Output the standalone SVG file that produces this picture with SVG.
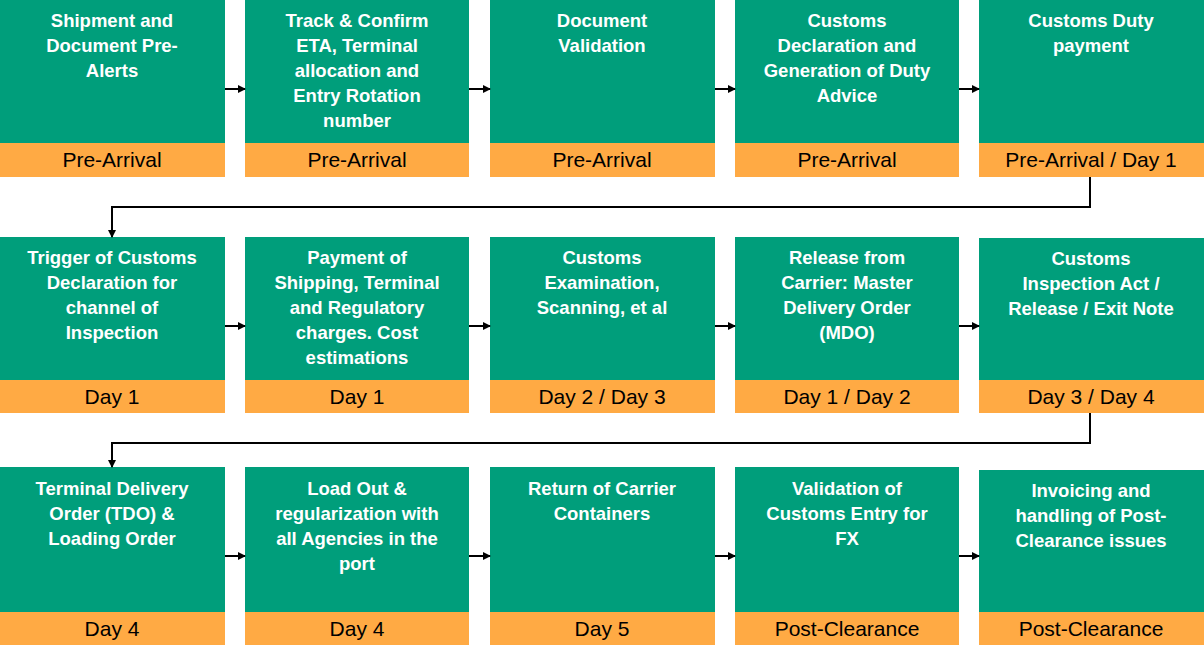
<svg xmlns="http://www.w3.org/2000/svg" width="1204" height="657" viewBox="0 0 1204 657">
<style>
.g{fill:#009E7B}.o{fill:#FFAA44}
.t{font-family:"Liberation Sans",Arial,sans-serif;font-weight:bold;font-size:18.5px;fill:#fff;text-anchor:middle}
.s{font-family:"Liberation Sans",Arial,sans-serif;font-size:21px;fill:#000;text-anchor:middle}
.c{stroke:#000;stroke-width:2;fill:none;marker-end:url(#a)}
</style>
<defs><marker id="a" markerWidth="8" markerHeight="8" refX="7" refY="4" orient="auto" markerUnits="userSpaceOnUse"><path d="M0,0L8,4L0,8z" fill="#000"/></marker></defs>
<rect width="1204" height="657" fill="#fff"/>
<g id="n1"><rect class="g" x="0" y="0" width="225" height="143"/><rect class="o" x="0" y="143" width="225" height="34"/><text class="t" x="112"><tspan x="112" y="27">Shipment and</tspan><tspan x="112" y="52">Document Pre-</tspan><tspan x="112" y="77">Alerts</tspan></text><text class="s" x="112" y="167">Pre-Arrival</text></g>
<g id="n2"><rect class="g" x="245" y="0" width="224" height="143"/><rect class="o" x="245" y="143" width="224" height="34"/><text class="t"><tspan x="357" y="27">Track &amp; Confirm</tspan><tspan x="357" y="52">ETA, Terminal</tspan><tspan x="357" y="77">allocation and</tspan><tspan x="357" y="102">Entry Rotation</tspan><tspan x="357" y="127">number</tspan></text><text class="s" x="357" y="167">Pre-Arrival</text></g>
<g id="n3"><rect class="g" x="490" y="0" width="225" height="143"/><rect class="o" x="490" y="143" width="225" height="34"/><text class="t"><tspan x="602" y="27">Document</tspan><tspan x="602" y="52">Validation</tspan></text><text class="s" x="602" y="167">Pre-Arrival</text></g>
<g id="n4"><rect class="g" x="735" y="0" width="224" height="143"/><rect class="o" x="735" y="143" width="224" height="34"/><text class="t"><tspan x="847" y="27">Customs</tspan><tspan x="847" y="52">Declaration and</tspan><tspan x="847" y="77">Generation of Duty</tspan><tspan x="847" y="102">Advice</tspan></text><text class="s" x="847" y="167">Pre-Arrival</text></g>
<g id="n5"><rect class="g" x="979" y="0" width="225" height="143"/><rect class="o" x="979" y="143" width="225" height="34"/><text class="t"><tspan x="1091" y="27">Customs Duty</tspan><tspan x="1091" y="52">payment</tspan></text><text class="s" x="1091" y="167">Pre-Arrival / Day 1</text></g>
<g id="n6"><rect class="g" x="0" y="237" width="225" height="143"/><rect class="o" x="0" y="380" width="225" height="33"/><text class="t"><tspan x="112" y="264">Trigger of Customs</tspan><tspan x="112" y="289">Declaration for</tspan><tspan x="112" y="314">channel of</tspan><tspan x="112" y="339">Inspection</tspan></text><text class="s" x="112" y="404">Day 1</text></g>
<g id="n7"><rect class="g" x="245" y="237" width="224" height="143"/><rect class="o" x="245" y="380" width="224" height="33"/><text class="t"><tspan x="357" y="264">Payment of</tspan><tspan x="357" y="289">Shipping, Terminal</tspan><tspan x="357" y="314">and Regulatory</tspan><tspan x="357" y="339">charges. Cost</tspan><tspan x="357" y="364">estimations</tspan></text><text class="s" x="357" y="404">Day 1</text></g>
<g id="n8"><rect class="g" x="490" y="237" width="225" height="143"/><rect class="o" x="490" y="380" width="225" height="33"/><text class="t"><tspan x="602" y="264">Customs</tspan><tspan x="602" y="289">Examination,</tspan><tspan x="602" y="314">Scanning, et al</tspan></text><text class="s" x="602" y="404">Day 2 / Day 3</text></g>
<g id="n9"><rect class="g" x="735" y="237" width="224" height="143"/><rect class="o" x="735" y="380" width="224" height="33"/><text class="t"><tspan x="847" y="264">Release from</tspan><tspan x="847" y="289">Carrier: Master</tspan><tspan x="847" y="314">Delivery Order</tspan><tspan x="847" y="339">(MDO)</tspan></text><text class="s" x="847" y="404">Day 1 / Day 2</text></g>
<g id="n10"><rect class="g" x="979" y="238" width="225" height="142"/><rect class="o" x="979" y="380" width="225" height="33"/><text class="t"><tspan x="1091" y="265">Customs</tspan><tspan x="1091" y="290">Inspection Act /</tspan><tspan x="1091" y="315">Release / Exit Note</tspan></text><text class="s" x="1091" y="404">Day 3 / Day 4</text></g>
<g id="n11"><rect class="g" x="0" y="467" width="225" height="145"/><rect class="o" x="0" y="612" width="225" height="33"/><text class="t"><tspan x="112" y="495">Terminal Delivery</tspan><tspan x="112" y="520">Order (TDO) &amp;</tspan><tspan x="112" y="545">Loading Order</tspan></text><text class="s" x="112" y="636">Day 4</text></g>
<g id="n12"><rect class="g" x="245" y="467" width="224" height="145"/><rect class="o" x="245" y="612" width="224" height="33"/><text class="t"><tspan x="357" y="495">Load Out &amp;</tspan><tspan x="357" y="520">regularization with</tspan><tspan x="357" y="545">all Agencies in the</tspan><tspan x="357" y="570">port</tspan></text><text class="s" x="357" y="636">Day 4</text></g>
<g id="n13"><rect class="g" x="490" y="467" width="225" height="145"/><rect class="o" x="490" y="612" width="225" height="33"/><text class="t"><tspan x="602" y="495">Return of Carrier</tspan><tspan x="602" y="520">Containers</tspan></text><text class="s" x="602" y="636">Day 5</text></g>
<g id="n14"><rect class="g" x="735" y="467" width="224" height="145"/><rect class="o" x="735" y="612" width="224" height="33"/><text class="t"><tspan x="847" y="495">Validation of</tspan><tspan x="847" y="520">Customs Entry for</tspan><tspan x="847" y="545">FX</tspan></text><text class="s" x="847" y="636">Post-Clearance</text></g>
<g id="n15"><rect class="g" x="979" y="470" width="225" height="142"/><rect class="o" x="979" y="612" width="225" height="33"/><text class="t"><tspan x="1091" y="497">Invoicing and</tspan><tspan x="1091" y="522">handling of Post-</tspan><tspan x="1091" y="547">Clearance issues</tspan></text><text class="s" x="1091" y="636">Post-Clearance</text></g>
<g id="connectors">
<path class="c" d="M225,89H245"/><path class="c" d="M469,89H490"/><path class="c" d="M715,89H735"/><path class="c" d="M959,89H979"/>
<path class="c" d="M1090,177V207H112V237"/>
<path class="c" d="M225,326H245"/><path class="c" d="M469,326H490"/><path class="c" d="M715,326H735"/><path class="c" d="M959,326H979"/>
<path class="c" d="M1090,413V443H112V467"/>
<path class="c" d="M225,556H245"/><path class="c" d="M469,556H490"/><path class="c" d="M715,556H735"/><path class="c" d="M959,556H979"/>
</g>
</svg>
